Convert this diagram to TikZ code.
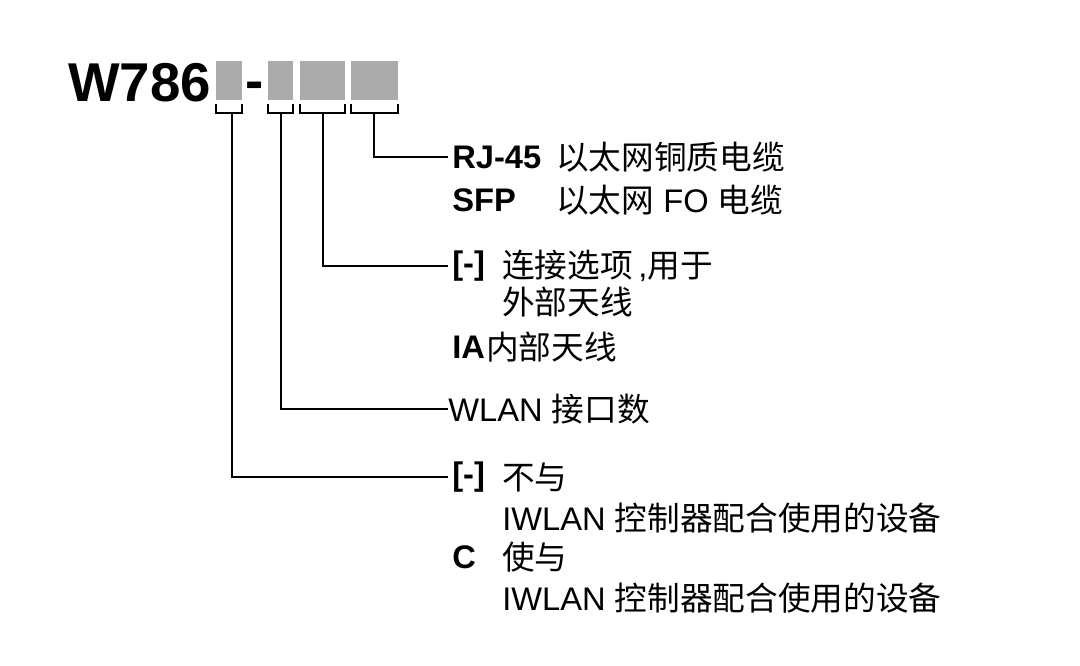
\documentclass[tikz,border=0pt]{standalone}
\usepackage{fontspec}
\setmainfont{Liberation Sans}
\newfontfamily\cjk{Noto Sans CJK SC}
\begin{document}
\begin{tikzpicture}[x=0.75pt,y=-0.75pt,
  box/.style={fill=black!33,draw=none},
  ln/.style={line width=2.2pt,line join=miter},
  t/.style={anchor=west,inner sep=0,font=\fontsize{24.5}{26}\selectfont}]
\useasboundingbox (0,0) rectangle (1080,665);
\node[anchor=base west,inner sep=0,font=\fontsize{41}{44}\selectfont\bfseries] (w) at (68,101) {W786};
\fill[box] (216,61) rectangle (242,100);
\node[anchor=base,inner sep=0,font=\fontsize{41}{44}\selectfont\bfseries] (d) at (255,99) {-};
\fill[box] (268,61) rectangle (293,100);
\fill[box] (300,61) rectangle (345,100);
\fill[box] (351,61) rectangle (398,100);
\foreach \a/\b in {216/242,268/293,300/345,351/398}
  \draw[ln] (\a,104) -- (\a,113) -- (\b,113) -- (\b,104);
\coordinate (e4) at (448,157); \coordinate (e3) at (448,266);
\coordinate (e2) at (448,409); \coordinate (e1) at (448,477);
\draw[ln] (374,113) |- (e4);
\draw[ln] (323,113) |- (e3);
\draw[ln] (281,113) |- (e2);
\draw[ln] (232,113) |- (e1);
\node[t] (a1) at (452,157) {\textbf{RJ-45}};
\node[t] (a1b) at (556,157) {\cjk 以太网铜质电缆};
\node[t] (a2) at (452,200) {\textbf{SFP}};
\node[t] (a2b) at (556,200) {{\cjk 以太网} FO {\cjk 电缆}};
\node[t] (b1) at (452,266) {\textbf{[-]}};
\node[t] (b1b) at (502,266) {{\cjk 连接选项}\,,{\cjk 用于}};
\node[t] (b2) at (502,302) {\cjk 外部天线};
\node[t] (b3) at (452,347) {\textbf{IA}};
\node[t] (b3b) at (486,347) {\cjk 内部天线};
\node[t] (c1) at (448,409) {WLAN {\cjk 接口数}};
\node[t] (d1) at (452,477) {\textbf{[-]}};
\node[t] (d1b) at (502,477) {\cjk 不与};
\node[t] (d2) at (502,518) {IWLAN {\cjk 控制器配合使用的设备}};
\node[t] (d3) at (452,557) {\textbf{C}};
\node[t] (d3b) at (502,557) {\cjk 使与};
\node[t] (d4) at (502,598) {IWLAN {\cjk 控制器配合使用的设备}};
\end{tikzpicture}
\end{document}
